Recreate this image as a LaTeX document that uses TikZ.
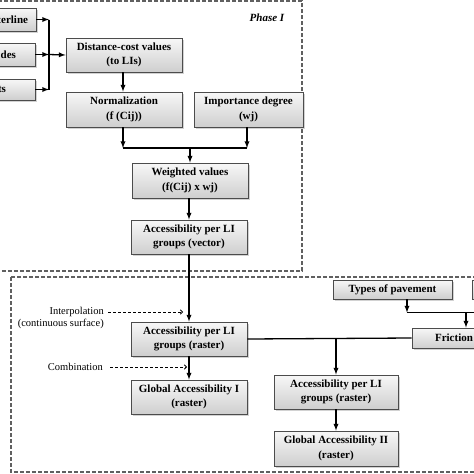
\documentclass[tikz,border=0pt]{standalone}
\usepackage{fontspec}
\setmainfont{Liberation Serif}
\usepackage{tikz}
\usetikzlibrary{arrows.meta,shadows}

\tikzset{
  box/.style={draw=gray!60!black, line width=0.9pt, top color=gray!6, bottom color=gray!38,
    drop shadow={shadow xshift=1.6pt, shadow yshift=-1.6pt, fill=gray!70},
    font=\bfseries\fontsize{11}{14.5}\selectfont, align=center, inner sep=2pt},
  frame/.style={draw=gray!75!black, line width=1.2pt, dash pattern=on 4pt off 2pt},
  link/.style={line width=1.3pt, -latex},
  line/.style={line width=1.3pt},
  hint/.style={line width=0.8pt, dash pattern=on 3pt off 2pt, -{>[length=3pt,width=5pt]}},
  note/.style={font=\fontsize{10.5}{12}\selectfont, align=right, inner sep=0pt}
}

\begin{document}
\begin{tikzpicture}[x=1pt,y=-1pt]
  \useasboundingbox (0,0) rectangle (474,474);
  \clip (0,0) rectangle (474,474);
  \fill[white] (0,0) rectangle (474,474);

  % frames
  \draw[frame] (-10,1) rectangle (302,271);
  \draw[frame] (11,277) rectangle (490,472);
  \node[font=\bfseries\itshape\fontsize{11}{12}\selectfont] (phase1) at (267,18) {Phase I};

  % phase I
  \node[box, text width=92pt, inner xsep=8pt, align=right, minimum height=23pt] (roads) at (-18,19.5) {terline};
  \node[box, text width=68pt, inner xsep=19pt, align=right, minimum height=23pt] (nodes) at (-18,54.5) {des};
  \node[box, text width=48pt, inner xsep=29pt, align=right, minimum height=21pt] (points) at (-18,89.5) {ts};
  \node[box, minimum width=116pt, minimum height=34pt] (dist) at (124,55) {Distance-cost values\\(to LIs)};
  \node[box, minimum width=116pt, minimum height=35pt] (norm) at (124,109.5) {Normalization\\(f (Cij))};
  \node[box, minimum width=109pt, minimum height=35pt] (imp) at (248.5,109.5) {Importance degree\\(wj)};
  \node[box, minimum width=116pt, minimum height=35pt] (wgt) at (190,180.5) {Weighted values\\(f(Cij) x wj)};
  \node[box, minimum width=116pt, minimum height=34pt] (vec) at (189,237) {Accessibility  per LI\\groups (vector)};

  % phase II
  \node[box, minimum width=116pt, minimum height=34pt] (ras1) at (189,339) {Accessibility  per LI\\groups (raster)};
  \node[box, minimum width=116pt, minimum height=34pt] (glob1) at (189,397) {Global Accessibility I\\(raster)};
  \node[box, minimum width=119pt, minimum height=19pt] (pave) at (392.5,289.5) {Types of pavement};
  \node[box, minimum width=80pt, minimum height=19pt] (slope) at (512,289.5) {};
  \node[box, minimum width=84pt, minimum height=20pt] (fric) at (454,338) {Friction};
  \node[box, minimum width=124pt, minimum height=34pt] (ras2) at (336,392) {Accessibility  per LI\\groups (raster)};
  \node[box, minimum width=124pt, minimum height=35pt] (glob2) at (336,448.5) {Global Accessibility II\\(raster)};

  \node[note, anchor=east] (interp) at (104,318) {Interpolation\\(continuous surface)};
  \node[note, anchor=east] (comb) at (103,367) {Combination};

  % connectors
  \coordinate (busA) at (49,19.5);
  \coordinate (busB) at (49,54.5);
  \coordinate (busC) at (49,89.5);
  \draw[link] (roads.east) -- (busA);
  \draw[link] (nodes.east) -- (busB);
  \draw[link] (points.east) -- (busC);
  \draw[line] (busA) -- (busC);
  \draw[link] (busB) -- (dist.west);
  \draw[link] (dist.south -| 123,0) -- (norm.north -| 123,0);
  \coordinate (joinL) at (123,148);
  \coordinate (joinR) at (247,148);
  \draw[link] (norm.south -| joinL) -- (joinL);
  \draw[link] (imp.south -| joinR) -- (joinR);
  \draw[line] (joinL) -- (joinR);
  \draw[link] (190,148) -- (wgt.north);
  \draw[link] (wgt.south -| vec.north) -- (vec.north);
  \draw[link] (vec.south) -- (ras1.north);
  \draw[link] (ras1.south) -- (glob1.north);

  \coordinate (paveJ) at (407,312.5);
  \draw[link] (pave.south -| paveJ) -- (paveJ);
  \draw[line] (paveJ) -- (512,312.5) -- (slope.south);
  \draw[link] (466,312.5) -- (fric.north -| 466,0);
  \draw[line] (fric.west) -- (ras1.east);
  \draw[link] (ras1.east -| ras2.north) -- (ras2.north);
  \draw[link] (ras2.south) -- (glob2.north);

  \draw[hint] (108,312) -- (183,312);
  \draw[hint] (comb.east) ++(7,0) -- (187,367);
\end{tikzpicture}
\end{document}
